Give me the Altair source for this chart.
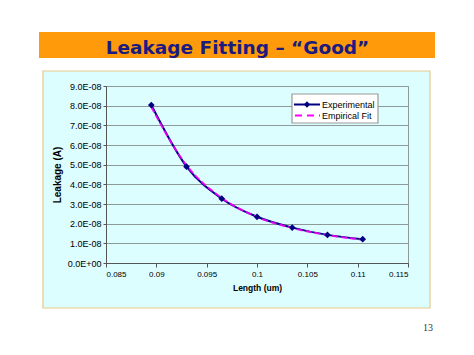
import altair as alt
import pandas as pd

# ---- data ----
length_um = [0.0895, 0.093, 0.0965, 0.1, 0.1035, 0.107, 0.1105]
experimental = [8.03e-8, 4.90e-8, 3.27e-8, 2.35e-8, 1.80e-8, 1.43e-8, 1.21e-8]
empirical_fit = [7.93e-8, 4.97e-8, 3.31e-8, 2.34e-8, 1.78e-8, 1.42e-8, 1.18e-8]

x_ticks = [0.085, 0.09, 0.095, 0.1, 0.105, 0.11, 0.115]
y_ticks = [0.0, 1e-8, 2e-8, 3e-8, 4e-8, 5e-8, 6e-8, 7e-8, 8e-8, 9e-8]
series_names = ["Experimental", "Empirical Fit"]
title_text = "Leakage Fitting \u2013 \u201cGood\u201d"
page_number = "13"

df = pd.DataFrame({"Length": length_um, "Exp": experimental, "Fit": empirical_fit})
one = pd.DataFrame({"k": [0]})  # single row for page decorations

NAVY = "#000080"
MAGENTA = "#FF00FF"
CYAN = "#DDFEFE"

xs = alt.Scale(domain=[x_ticks[0], x_ticks[-1]], nice=False, zero=False)
ys = alt.Scale(domain=[y_ticks[0], y_ticks[-1]], nice=False)

x_axis = alt.Axis(values=x_ticks, format=".3~f", title="Length (um)", grid=False,
                  labelFontSize=8, titleFontSize=8.5, tickSize=4, labelPadding=3,
                  titlePadding=5, labelOverlap=False, tickCount=20)
y_axis = alt.Axis(values=y_ticks, title="Leakage (A)",
                  labelExpr="datum.value == 0 ? '0.0E+00' : format(datum.value*1e8, '.1f') + 'E-08'",
                  labelFontSize=9, titleFontSize=10, tickSize=3, labelPadding=2,
                  titlePadding=5, gridColor="#8E9A9A", gridWidth=1, labelOverlap=False,
                  tickCount=20)

base = alt.Chart(df)

exp_line = base.mark_line(color=NAVY, strokeWidth=2, interpolate="monotone").encode(
    x=alt.X("Length:Q", scale=xs, axis=x_axis),
    y=alt.Y("Exp:Q", scale=ys, axis=y_axis),
)
exp_pts = base.mark_point(shape="diamond", filled=True, color=NAVY, size=45, opacity=1).encode(
    x=alt.X("Length:Q", scale=xs), y=alt.Y("Exp:Q", scale=ys)
)
fit_line = base.mark_line(color=MAGENTA, strokeWidth=2, strokeDash=[6, 3],
                          interpolate="monotone", opacity=0.85).encode(
    x=alt.X("Length:Q", scale=xs), y=alt.Y("Fit:Q", scale=ys)
)

# plot area origin is at (106, 86) in page pixels; decorations below are page furniture
OX, OY = 106, 86

def rect(x1, y1, x2, y2, fill, stroke=None):
    kw = dict(clip=False, fill=fill)
    if stroke:
        kw.update(stroke=stroke, strokeWidth=1.2)
    else:
        kw.update(strokeWidth=0)
    return alt.Chart(one).mark_rect(**kw).encode(
        x=alt.value(x1 - OX), x2=alt.value(x2 - OX),
        y=alt.value(y1 - OY), y2=alt.value(y2 - OY))

def label(txt, x, y, size, font="Liberation Sans", weight="normal", color="black",
          align="left", baseline="middle"):
    return alt.Chart(one).mark_text(clip=False, text=txt, font=font, fontWeight=weight,
                                    fontSize=size, color=color, align=align,
                                    baseline=baseline).encode(
        x=alt.value(x - OX), y=alt.value(y - OY))

# white page around the cyan chart frame
white_top = rect(0, 0, 474, 71, "white")
white_bot = rect(0, 308, 474, 355, "white")
white_left = rect(0, 0, 43, 355, "white")
white_right = rect(430, 0, 474, 355, "white")
frame = rect(43, 71, 430, 308, "transparent", stroke="#E6C98C")
banner = rect(39, 32, 435, 58, "#FF9A0A")
title = label(title_text, 237.5, 53.5, 18.5, font="DejaVu Sans", weight="bold",
              color="#1A1A80", align="center", baseline="alphabetic")
pnum = label(page_number, 428, 328, 10, font="Liberation Serif", color="#333333", align="center")

# legend
leg_box = rect(292, 94, 378, 123, "#FFFFFF", stroke="#999999")
leg_l1 = alt.Chart(one).mark_rule(clip=False, color=NAVY, strokeWidth=2).encode(
    x=alt.value(294 - OX), x2=alt.value(320 - OX), y=alt.value(104.5 - OY))
leg_p1 = alt.Chart(one).mark_point(clip=False, shape="diamond", filled=True, color=NAVY, size=40, opacity=1).encode(
    x=alt.value(307 - OX), y=alt.value(104.5 - OY))
leg_l2 = alt.Chart(one).mark_rule(clip=False, color=MAGENTA, strokeWidth=2, strokeDash=[7, 5]).encode(
    x=alt.value(295 - OX), x2=alt.value(320 - OX), y=alt.value(115.5 - OY))
leg_t1 = label(series_names[0], 322, 104.5, 9)
leg_t2 = label(series_names[1], 322, 115.5, 9)

chart = alt.layer(
    exp_line, fit_line, exp_pts,
    white_top, white_bot, white_left, white_right, frame, banner, title, pnum,
    leg_box, leg_l1, leg_p1, leg_l2, leg_t1, leg_t2,
).properties(
    width=302, height=177,
    autosize=alt.AutoSizeParams(type="none"),
    padding={"left": OX, "top": OY, "right": 474 - OX - 302, "bottom": 355 - OY - 177},
    background=CYAN,
).configure_view(
    fill=CYAN, stroke="#8E9A9A", strokeWidth=1
).configure_axis(
    labelFont="Liberation Sans", titleFont="Liberation Sans", titleFontWeight="bold",
    labelColor="black", titleColor="black", domainColor="#555555", tickColor="#555555",
)

chart.save("out.html", embed_options={"renderer": "svg", "actions": False})
